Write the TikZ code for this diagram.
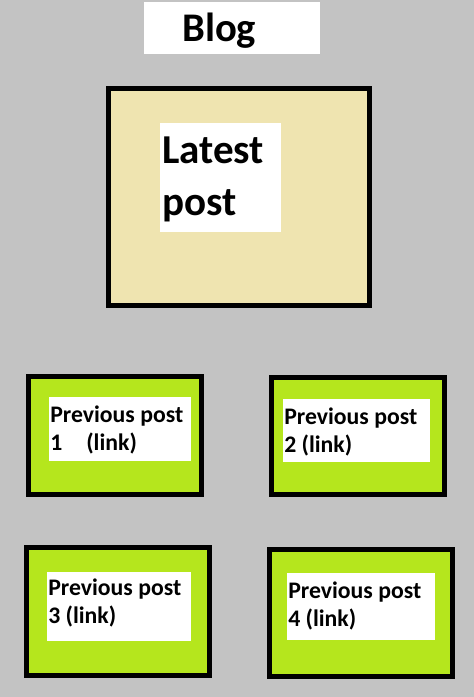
\documentclass[tikz,border=0pt]{standalone}
\usepackage{fontspec}
\setmainfont{Carlito}
\usetikzlibrary{positioning}

\definecolor{pagegray}{RGB}{195,195,195}
\definecolor{postbeige}{RGB}{239,228,176}
\definecolor{postlime}{RGB}{181,230,29}
\def\px{0.75pt}

\begin{document}
\begin{tikzpicture}[x=0.75pt,y=-0.75pt,
		postbox/.style={draw, line width=5*\px, inner sep=0},
		whitebox/.style={fill=white, inner sep=0},
		posttext/.style={align=left, inner sep=0, font=\bfseries\fontsize{17.8}{21}\selectfont}]
	% page
	\fill[pagegray] (0,0) rectangle (474,697);
	\useasboundingbox (0,0) rectangle (474,697);

	% title
	\node[whitebox, minimum width=176*\px, minimum height=52*\px] (title) at (232,28) {};
	\node[anchor=base west, inner sep=0, font=\bfseries\fontsize{30.5}{36}\selectfont] (blog) at (182,41) {Blog};

	% latest post
	\node[postbox, fill=postbeige, minimum width=261*\px, minimum height=217*\px] (latest) at (239,197) {};
	\node[whitebox, minimum width=121*\px, minimum height=109*\px] (latestbg) at (220.5,177.5) {};
	\node[anchor=north west, align=left, inner sep=0, font=\bfseries\fontsize{30.8}{38.5}\selectfont] (latesttxt) at (162,137) {Latest\\post};

	% previous posts
	\foreach \i/\bx/\by/\bw/\bh/\wx/\wy/\ww/\wh/\tx/\ty/\gap in {
			1/115/435.5/173/118/120/429/142/64/50/406/18pt,
			2/358/436/173/117/356.5/430.5/147/63/284/408/4pt,
			3/118/611.5/183/128/119/606.5/144/69/48/579/4pt,
			4/361/613/183/127/361/606.5/148/67/288/582/4pt}
		{
		\node[postbox, fill=postlime, minimum width=\bw*\px, minimum height=\bh*\px] (prev\i) at (\bx,\by) {};
		\node[whitebox, minimum width=\ww*\px, minimum height=\wh*\px] (prevbg\i) at (\wx,\wy) {};
		\node[posttext, anchor=north west] (prevtxt\i) at (\tx,\ty) {Previous post\\\i\hspace{\gap}(link)};
		}
\end{tikzpicture}
\end{document}
